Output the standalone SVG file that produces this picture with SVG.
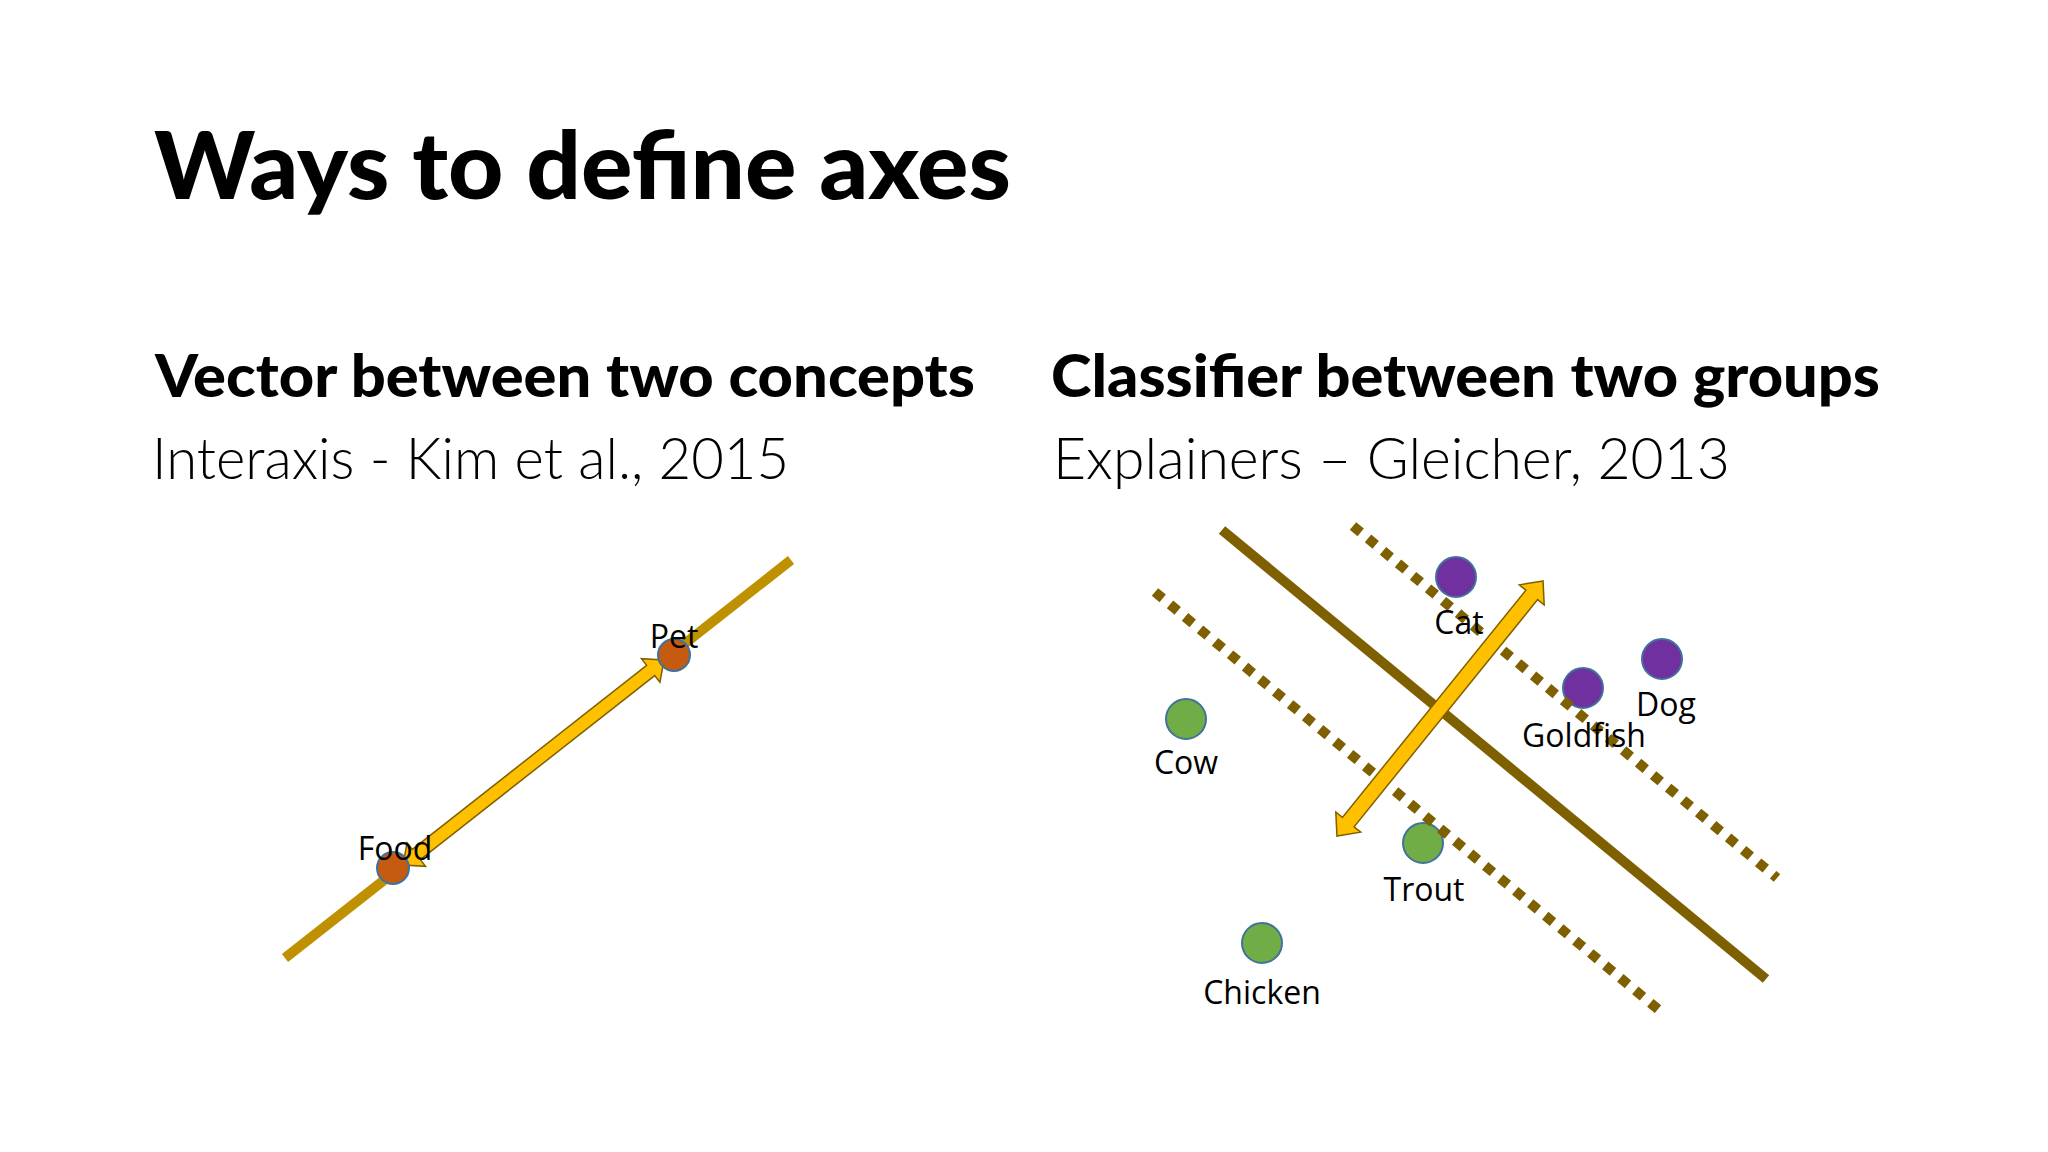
<svg xmlns="http://www.w3.org/2000/svg" width="2048" height="1152" viewBox="0 0 2048 1152">
  <style>
    .title { font-family: Lato, "Noto Sans", sans-serif; font-weight: 900; fill: #000; }
    .sub { font-family: Lato, "Noto Sans", sans-serif; font-weight: 300; fill: #000; }
    .lbl { font-family: "Open Sans", "Liberation Sans", sans-serif; font-size: 32px; fill: #000; text-anchor: middle; }
    .axis { stroke: #BF9000; stroke-width: 10; fill: none; }
    .sep { stroke: #7F6000; stroke-width: 10; fill: none; }
    .margin { stroke: #7F6000; stroke-width: 10; fill: none; stroke-dasharray: 10 9.5; }
    .arrow { fill: #FFC000; stroke: #7F6000; stroke-width: 1.5; stroke-linejoin: miter; }
    .pt { stroke: #41719C; stroke-width: 2; }
    .orange { fill: #C55A11; }
    .purple { fill: #7030A0; }
    .green { fill: #70AD47; }
  </style>
  <defs>
    <polygon id="dbl166" points="166,0 149,-15 149,-6.5 -149,-6.5 -149,-15 -166,0 -149,15 -149,6.5 149,6.5 149,15"/>
    <polygon id="dbl164" points="164,0 146,-16 146,-7.5 -146,-7.5 -146,-16 -164,0 -146,16 -146,7.5 146,7.5 146,16"/>
  </defs>
  <rect width="2048" height="1152" fill="#FFFFFF"/>

  <g id="titles">
    <text class="title" x="154" y="199" font-size="94" textLength="857" lengthAdjust="spacingAndGlyphs">Ways to define axes</text>
    <text class="title" x="155" y="397" font-size="59" textLength="820" lengthAdjust="spacingAndGlyphs">Vector between two concepts</text>
    <text class="sub" x="152" y="479" font-size="58" textLength="637" lengthAdjust="spacingAndGlyphs">Interaxis - Kim et al., 2015</text>
    <text class="title" x="1051" y="397" font-size="59" textLength="829" lengthAdjust="spacingAndGlyphs">Classifier between two groups</text>
    <text class="sub" x="1053" y="479" font-size="58" textLength="677" lengthAdjust="spacingAndGlyphs">Explainers – Gleicher, 2013</text>
  </g>

  <g id="connectors">
    <line id="axis-left" class="axis" x1="285" y1="958" x2="791" y2="560"/>
    <use id="arrow-food-pet" href="#dbl166" class="arrow" transform="translate(533.5,762.5) rotate(-38.15)"/>
    <line id="separator" class="sep" x1="1222" y1="530" x2="1766" y2="979"/>
  </g>

  <g id="node-food">
    <circle class="pt orange" cx="393" cy="868" r="16"/>
    <text class="lbl" x="395" y="860">Food</text>
  </g>
  <g id="node-pet">
    <circle class="pt orange" cx="674" cy="655" r="16"/>
    <text class="lbl" x="674" y="648">Pet</text>
  </g>

  <g id="node-cat"><circle class="pt purple" cx="1456" cy="577" r="20"/></g>
  <g id="node-goldfish"><circle class="pt purple" cx="1583" cy="688" r="20"/></g>
  <g id="node-dog"><circle class="pt purple" cx="1662" cy="659" r="20"/></g>
  <g id="node-cow"><circle class="pt green" cx="1186" cy="719" r="20"/></g>
  <g id="node-trout"><circle class="pt green" cx="1423" cy="843" r="20"/></g>
  <g id="node-chicken"><circle class="pt green" cx="1262" cy="943" r="20"/></g>

  <g id="margins">
    <line class="margin" x1="1353" y1="526" x2="1777" y2="878"/>
    <line class="margin" x1="1155" y1="592" x2="1659" y2="1010"/>
  </g>

  <g id="classifier-arrow">
    <use href="#dbl164" class="arrow" transform="translate(1440,708.5) rotate(-51.07)"/>
  </g>

  <g id="labels">
    <text class="lbl" x="1459" y="634">Cat</text>
    <text class="lbl" x="1584" y="747">Goldfish</text>
    <text class="lbl" x="1666" y="716">Dog</text>
    <text class="lbl" x="1186" y="774">Cow</text>
    <text class="lbl" x="1424" y="901">Trout</text>
    <text class="lbl" x="1262" y="1004">Chicken</text>
  </g>
</svg>
